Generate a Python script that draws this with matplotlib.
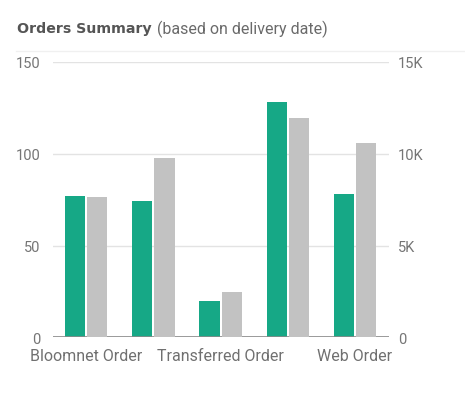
import numpy as np
import matplotlib.pyplot as plt

# Orders by source
categories = ['Bloomnet Order', 'Phone Order', 'Transferred Order', 'Wire Order', 'Web Order']
order_counts = [77, 74, 20, 128, 78]            # left axis
order_totals = [7640, 9760, 2490, 11950, 10580]  # right axis
left_ticks = [0, 50, 100, 150]
right_ticks = [0, 5000, 10000, 15000]
right_labels = ['0', '5K', '10K', '15K']

green = '#16a886'
grey = '#c2c2c2'
text_col = '#757575'

plt.rcParams['font.family'] = ['Roboto', 'DejaVu Sans']

fig = plt.figure(figsize=(4.65, 4.02), dpi=100)
ax = fig.add_axes([0.1133, 0.1585, 0.7222, 0.6848])
ax2 = ax.twinx()

x = np.arange(len(categories))
w = 0.3
gap = 0.015
ax.bar(x - w / 2 - gap, order_counts, width=w, color=green, zorder=3)
ax2.bar(x + w / 2 + gap, order_totals, width=w, color=grey, zorder=3)

ax.set_xlim(-0.5, len(categories) - 0.5)
ax.set_ylim(0, 150)
ax2.set_ylim(0, 15000)
ax.set_yticks(left_ticks)
ax2.set_yticks(right_ticks)
ax2.set_yticklabels(right_labels)
ax.set_xticks(x[::2])
ax.set_xticklabels(categories[::2])

ax.grid(axis='y', color='#e3e3e3', linewidth=1, zorder=0)
for a in (ax, ax2):
    for s in a.spines.values():
        s.set_visible(False)
    a.tick_params(length=0, labelsize=10.5, labelcolor=text_col)
ax.tick_params(axis='y', pad=9)
ax2.tick_params(axis='y', pad=7)
ax.tick_params(axis='x', pad=8, labelsize=11.5, labelcolor='#707070')
ax.axhline(0, color='#8a8a8a', linewidth=1.2, zorder=4)
ax2.set_zorder(ax.get_zorder() + 1)
ax2.patch.set_visible(False)

# header
title = fig.text(17 / 465, 1 - 29 / 402, 'Orders Summary', fontsize=10.2, fontweight='bold',
                 color='#555555', va='center', family=['DejaVu Sans'])
fig.text(157 / 465, 1 - 29 / 402, '(based on delivery date)', fontsize=11.5,
         color='#6a6a6a', va='center')
fig.add_artist(plt.Line2D([16 / 465, 1], [1 - 52 / 402] * 2, color='#f0f0f0', linewidth=1))

fig.savefig('out.png', dpi=100)
